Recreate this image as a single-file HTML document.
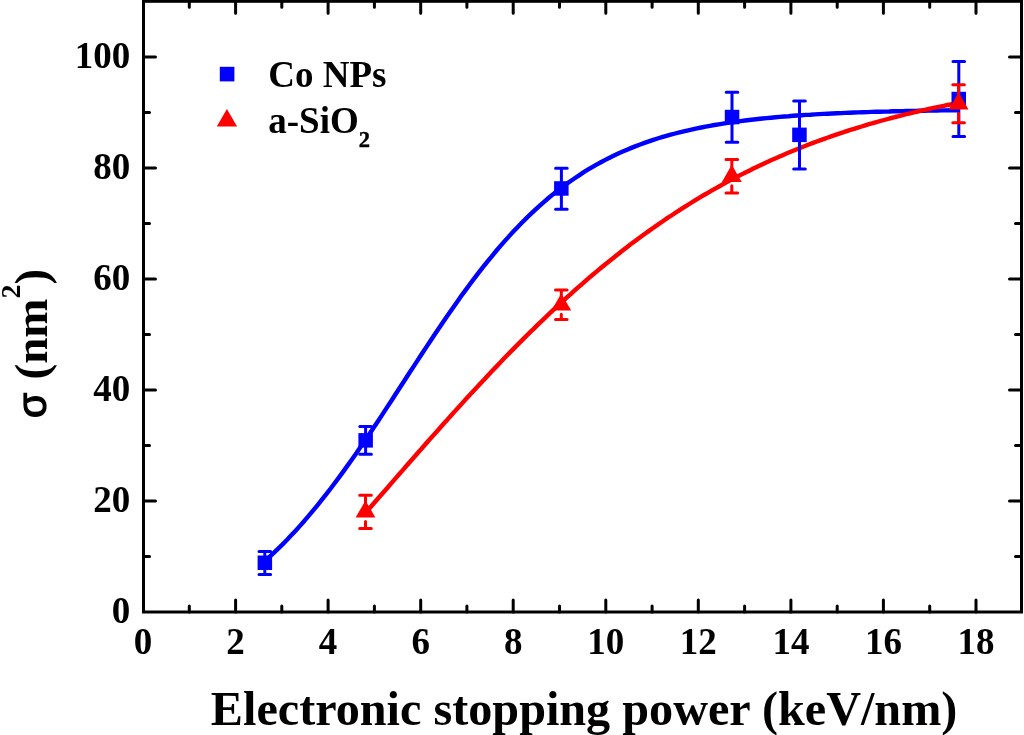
<!DOCTYPE html>
<html><head><meta charset="utf-8"><style>
html,body{margin:0;padding:0;background:#fff;}
svg{display:block;}
</style></head><body>
<svg width="1024" height="735" viewBox="0 0 1024 735">
<rect width="1024" height="735" fill="#fff"/>
<rect x="143.5" y="1.3" width="878.0" height="610.7" fill="none" stroke="#000" stroke-width="3"/>
<path d="M189.3 612.0V606.0M189.3 1.3V7.3M235.6 612.0V600.0M235.6 1.3V13.3M281.8 612.0V606.0M281.8 1.3V7.3M328.1 612.0V600.0M328.1 1.3V13.3M374.4 612.0V606.0M374.4 1.3V7.3M420.7 612.0V600.0M420.7 1.3V13.3M466.9 612.0V606.0M466.9 1.3V7.3M513.2 612.0V600.0M513.2 1.3V13.3M559.5 612.0V606.0M559.5 1.3V7.3M605.8 612.0V600.0M605.8 1.3V13.3M652.1 612.0V606.0M652.1 1.3V7.3M698.3 612.0V600.0M698.3 1.3V13.3M744.6 612.0V606.0M744.6 1.3V7.3M790.9 612.0V600.0M790.9 1.3V13.3M837.2 612.0V606.0M837.2 1.3V7.3M883.4 612.0V600.0M883.4 1.3V13.3M929.7 612.0V606.0M929.7 1.3V7.3M976.0 612.0V600.0M976.0 1.3V13.3M143.5 556.5H149.5M1021.5 556.5H1015.5M143.5 501.0H155.5M1021.5 501.0H1009.5M143.5 445.5H149.5M1021.5 445.5H1015.5M143.5 390.0H155.5M1021.5 390.0H1009.5M143.5 334.5H149.5M1021.5 334.5H1015.5M143.5 279.0H155.5M1021.5 279.0H1009.5M143.5 223.5H149.5M1021.5 223.5H1015.5M143.5 168.0H155.5M1021.5 168.0H1009.5M143.5 112.5H149.5M1021.5 112.5H1015.5M143.5 57.0H155.5M1021.5 57.0H1009.5" stroke="#000" stroke-width="3" stroke-linecap="round" fill="none"/>
<g font-family="Liberation Serif, serif" font-weight="bold" font-size="37" fill="#000"><text x="143.0" y="654.3" text-anchor="middle">0</text><text x="235.6" y="654.3" text-anchor="middle">2</text><text x="328.1" y="654.3" text-anchor="middle">4</text><text x="420.7" y="654.3" text-anchor="middle">6</text><text x="513.2" y="654.3" text-anchor="middle">8</text><text x="605.8" y="654.3" text-anchor="middle">10</text><text x="698.3" y="654.3" text-anchor="middle">12</text><text x="790.9" y="654.3" text-anchor="middle">14</text><text x="883.4" y="654.3" text-anchor="middle">16</text><text x="976.0" y="654.3" text-anchor="middle">18</text><text x="130.3" y="623.0" text-anchor="end">0</text><text x="130.3" y="512.0" text-anchor="end">20</text><text x="130.3" y="401.0" text-anchor="end">40</text><text x="130.3" y="290.0" text-anchor="end">60</text><text x="130.3" y="179.0" text-anchor="end">80</text><text x="130.3" y="68.0" text-anchor="end">100</text></g>
<text x="584.1" y="724.5" text-anchor="middle" font-family="Liberation Serif, serif" font-weight="bold" font-size="48.2" fill="#000">Electronic stopping power (keV/nm)</text>
<text transform="translate(46.3 418) rotate(-90)" font-family="Liberation Sans, sans-serif" font-size="41" fill="#000" stroke="#000" stroke-width="1.2">σ</text>
<text transform="translate(46.5 379.5) rotate(-90)" font-family="Liberation Serif, serif" font-weight="bold" font-size="47" fill="#000">(nm<tspan font-size="28" dy="-26.5">2</tspan><tspan dy="26.5">)</tspan></text>
<path d="M264.8 561.0 L269.2 557.1 L273.5 553.1 L277.9 548.9 L282.3 544.6 L286.6 540.2 L291.0 535.6 L295.4 530.9 L299.7 526.1 L304.1 521.2 L308.4 516.1 L312.8 510.9 L317.2 505.6 L321.5 500.2 L325.9 494.7 L330.3 489.0 L334.6 483.3 L339.0 477.4 L343.4 471.4 L347.7 465.4 L352.1 459.2 L356.5 453.0 L360.8 446.6 L365.2 440.2 L369.6 433.8 L373.9 427.2 L378.3 420.7 L382.6 414.1 L387.0 407.4 L391.4 400.7 L395.7 394.0 L400.1 387.3 L404.5 380.5 L408.8 373.8 L413.2 367.1 L417.6 360.4 L421.9 353.7 L426.3 347.1 L430.7 340.5 L435.0 334.0 L439.4 327.5 L443.8 321.0 L448.1 314.7 L452.5 308.4 L456.9 302.2 L461.2 296.1 L465.6 290.1 L469.9 284.2 L474.3 278.4 L478.7 272.7 L483.0 267.1 L487.4 261.6 L491.8 256.3 L496.1 251.0 L500.5 245.9 L504.9 240.9 L509.2 236.1 L513.6 231.3 L518.0 226.7 L522.3 222.3 L526.7 217.9 L531.1 213.7 L535.4 209.6 L539.8 205.6 L544.1 201.8 L548.5 198.0 L552.9 194.4 L557.2 190.9 L561.6 187.6 L566.0 184.3 L570.3 181.2 L574.7 178.2 L579.1 175.3 L583.4 172.4 L587.8 169.7 L592.2 167.1 L596.5 164.6 L600.9 162.2 L605.3 159.9 L609.6 157.7 L614.0 155.6 L618.3 153.5 L622.7 151.6 L627.1 149.7 L631.4 147.9 L635.8 146.1 L640.2 144.5 L644.5 142.9 L648.9 141.4 L653.3 139.9 L657.6 138.5 L662.0 137.2 L666.4 135.9 L670.7 134.7 L675.1 133.5 L679.5 132.4 L683.8 131.3 L688.2 130.3 L692.5 129.3 L696.9 128.4 L701.3 127.5 L705.6 126.6 L710.0 125.8 L714.4 125.0 L718.7 124.3 L723.1 123.6 L727.5 122.9 L731.8 122.3 L736.2 121.7 L740.6 121.1 L744.9 120.5 L749.3 120.0 L753.7 119.5 L758.0 119.0 L762.4 118.5 L766.7 118.1 L771.1 117.7 L775.5 117.3 L779.8 116.9 L784.2 116.5 L788.6 116.2 L792.9 115.8 L797.3 115.5 L801.7 115.2 L806.0 114.9 L810.4 114.7 L814.8 114.4 L819.1 114.1 L823.5 113.9 L827.9 113.7 L832.2 113.5 L836.6 113.3 L841.0 113.1 L845.3 112.9 L849.7 112.7 L854.0 112.5 L858.4 112.4 L862.8 112.2 L867.1 112.1 L871.5 111.9 L875.9 111.8 L880.2 111.7 L884.6 111.6 L889.0 111.5 L893.3 111.3 L897.7 111.2 L902.1 111.1 L906.4 111.0 L910.8 111.0 L915.2 110.9 L919.5 110.8 L923.9 110.7 L928.2 110.6 L932.6 110.6 L937.0 110.5 L941.3 110.4 L945.7 110.4 L950.1 110.3 L954.4 110.3 L958.8 110.2" stroke="#0000ff" stroke-width="4.4" fill="none" stroke-linejoin="round"/>
<path d="M365.5 512.9 L369.2 508.6 L373.0 504.3 L376.7 500.0 L380.4 495.8 L384.2 491.5 L387.9 487.2 L391.6 482.9 L395.3 478.6 L399.1 474.3 L402.8 470.1 L406.5 465.8 L410.3 461.5 L414.0 457.3 L417.7 453.0 L421.5 448.8 L425.2 444.5 L428.9 440.3 L432.6 436.1 L436.4 431.9 L440.1 427.7 L443.8 423.5 L447.6 419.4 L451.3 415.2 L455.0 411.1 L458.8 407.0 L462.5 402.9 L466.2 398.8 L469.9 394.7 L473.7 390.7 L477.4 386.7 L481.1 382.7 L484.9 378.7 L488.6 374.7 L492.3 370.8 L496.1 366.9 L499.8 363.0 L503.5 359.1 L507.2 355.3 L511.0 351.4 L514.7 347.6 L518.4 343.9 L522.2 340.1 L525.9 336.4 L529.6 332.7 L533.4 329.1 L537.1 325.4 L540.8 321.8 L544.5 318.3 L548.3 314.7 L552.0 311.2 L555.7 307.7 L559.5 304.2 L563.2 300.8 L566.9 297.4 L570.7 294.1 L574.4 290.7 L578.1 287.4 L581.9 284.2 L585.6 280.9 L589.3 277.7 L593.0 274.5 L596.8 271.4 L600.5 268.3 L604.2 265.2 L608.0 262.2 L611.7 259.2 L615.4 256.2 L619.2 253.2 L622.9 250.3 L626.6 247.4 L630.3 244.6 L634.1 241.8 L637.8 239.0 L641.5 236.3 L645.3 233.5 L649.0 230.9 L652.7 228.2 L656.5 225.6 L660.2 223.0 L663.9 220.5 L667.6 217.9 L671.4 215.5 L675.1 213.0 L678.8 210.6 L682.6 208.2 L686.3 205.8 L690.0 203.5 L693.8 201.2 L697.5 198.9 L701.2 196.7 L704.9 194.5 L708.7 192.3 L712.4 190.2 L716.1 188.1 L719.9 186.0 L723.6 183.9 L727.3 181.9 L731.1 179.9 L734.8 177.9 L738.5 176.0 L742.2 174.1 L746.0 172.2 L749.7 170.4 L753.4 168.5 L757.2 166.7 L760.9 165.0 L764.6 163.2 L768.4 161.5 L772.1 159.8 L775.8 158.2 L779.6 156.5 L783.3 154.9 L787.0 153.3 L790.7 151.8 L794.5 150.2 L798.2 148.7 L801.9 147.2 L805.7 145.8 L809.4 144.3 L813.1 142.9 L816.9 141.5 L820.6 140.1 L824.3 138.8 L828.0 137.5 L831.8 136.2 L835.5 134.9 L839.2 133.6 L843.0 132.4 L846.7 131.1 L850.4 129.9 L854.2 128.8 L857.9 127.6 L861.6 126.5 L865.3 125.3 L869.1 124.2 L872.8 123.2 L876.5 122.1 L880.3 121.0 L884.0 120.0 L887.7 119.0 L891.5 118.0 L895.2 117.0 L898.9 116.1 L902.6 115.1 L906.4 114.2 L910.1 113.3 L913.8 112.4 L917.6 111.5 L921.3 110.7 L925.0 109.8 L928.8 109.0 L932.5 108.2 L936.2 107.4 L939.9 106.6 L943.7 105.8 L947.4 105.0 L951.1 104.3 L954.9 103.6 L958.6 102.8" stroke="#ff0000" stroke-width="4.4" fill="none" stroke-linejoin="round"/>
<path d="M264.8 551.5V557.8M264.8 567.8V574.4M259.0 551.5H270.6M259.0 574.4H270.6M365.6 426.6V435.4M365.6 445.4V454.3M359.8 426.6H371.4M359.8 454.3H371.4M561.4 168.2V183.4M561.4 193.4V209.3M555.6 168.2H567.2M555.6 209.3H567.2M732.0 92.2V112.1M732.0 122.1V142.3M726.2 92.2H737.8M726.2 142.3H737.8M799.5 100.9V129.8M799.5 139.8V168.9M793.7 100.9H805.3M793.7 168.9H805.3M958.8 61.6V94.0M958.8 104.0V136.4M953.0 61.6H964.6M953.0 136.4H964.6" stroke="#0000ff" stroke-width="3" stroke-linecap="round" fill="none"/>
<rect x="257.6" y="555.5" width="14.5" height="14.5" fill="#0000ff"/><rect x="358.4" y="433.1" width="14.5" height="14.5" fill="#0000ff"/><rect x="554.1" y="181.2" width="14.5" height="14.5" fill="#0000ff"/><rect x="724.8" y="109.8" width="14.5" height="14.5" fill="#0000ff"/><rect x="792.2" y="127.6" width="14.5" height="14.5" fill="#0000ff"/><rect x="951.5" y="91.8" width="14.5" height="14.5" fill="#0000ff"/>
<path d="M365.5 495.2V503.5M365.5 521.4V528.5M359.7 495.2H371.3M359.7 528.5H371.3M561.3 290.1V296.4M561.3 314.3V319.5M555.5 290.1H567.1M555.5 319.5H567.1M731.8 159.4V167.8M731.8 185.7V193.0M726.0 159.4H737.6M726.0 193.0H737.6M958.6 84.7V95.3M958.6 113.3V122.8M952.8 84.7H964.4M952.8 122.8H964.4" stroke="#ff0000" stroke-width="3" stroke-linecap="round" fill="none"/>
<path d="M365.5 500.5L375.4 517.6L355.6 517.6Z" fill="#ff0000"/><path d="M561.3 293.4L571.2 310.5L551.4 310.5Z" fill="#ff0000"/><path d="M731.8 164.8L741.7 181.9L721.9 181.9Z" fill="#ff0000"/><path d="M958.6 92.3L968.5 109.5L948.7 109.5Z" fill="#ff0000"/>
<rect x="219.8" y="66.8" width="14.6" height="14.6" fill="#0000ff"/>
<path d="M226.9 108.9L237.1 126.5L216.8 126.5Z" fill="#ff0000"/>
<g font-family="Liberation Serif, serif" font-weight="bold" font-size="37" fill="#000"><text x="268.3" y="87.2">Co NPs</text><text x="268.3" y="132.7">a-SiO<tspan font-size="22.5" dy="14.2" stroke="#000" stroke-width="0.4">2</tspan></text></g>
</svg>
</body></html>
